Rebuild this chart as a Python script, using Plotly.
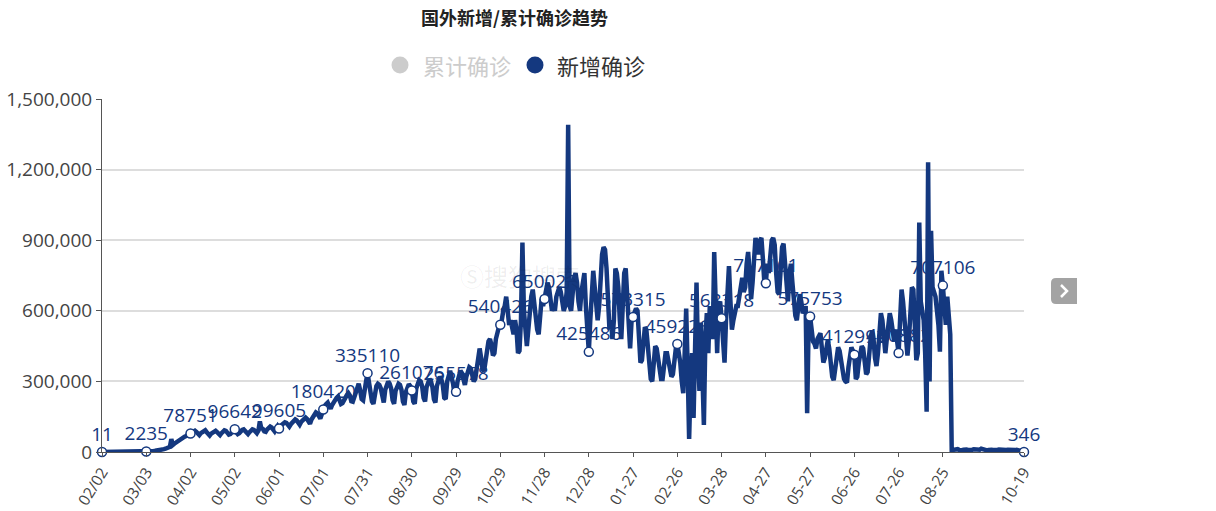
import pandas as pd
import plotly.graph_objects as go

# ---------------- data (daily new confirmed cases outside China, in thousands) -------------
start_date = "2020-02-02"
new_cases_k = [
    # 02/02 - 03/02
    0.011, 0.01, 0.02, 0.03, 0.03, 0.03, 0.06, 0.05, 0.04, 0.05, 0.05, 0.04, 0.1, 0.2, 0.07,
    0.07, 0.1, 0.1, 0.1, 0.2, 0.3, 0.4, 0.5, 0.8, 0.6, 0.9, 1.0, 1.2, 1.5, 1.9,
    # 03/03 - 04/01
    2.235, 2.5, 2.8, 3.2, 3.8, 4.5, 5.0, 5.5, 6.5, 7.5, 9, 10, 12, 14, 16,
    18, 22, 55, 30, 35, 40, 45, 50, 55, 58, 62, 65, 68, 72, 75,
    # 04/02 - 05/01
    78.751, 82, 88, 90, 85, 75, 72, 80, 86, 90, 92, 84, 72, 70, 78,
    82, 88, 90, 84, 74, 72, 80, 86, 92, 90, 82, 74, 76, 84, 90,
    # 05/02 - 05/31
    96.642, 84, 76, 80, 90, 94, 96, 90, 80, 76, 84, 92, 96, 94, 86,
    80, 90, 130, 100, 98, 88, 86, 96, 104, 108, 104, 92, 88, 100, 110,
    # 06/01 - 06/30
    99.605, 104, 116, 120, 126, 124, 112, 108, 118, 124, 132, 138, 134, 120, 116,
    128, 136, 142, 146, 140, 124, 120, 138, 148, 160, 168, 164, 146, 142, 160,
    # 07/01 - 07/30
    180.42, 196, 204, 210, 196, 184, 200, 212, 222, 230, 236, 224, 204, 208, 222,
    234, 242, 250, 240, 216, 214, 232, 248, 275, 290, 262, 225, 220, 285, 300,
    # 07/31 - 08/29
    335.11, 290, 250, 215, 205, 260, 280, 290, 285, 270, 225, 210, 265, 285, 300,
    290, 270, 220, 205, 260, 280, 290, 285, 265, 215, 200, 255, 278, 288, 280,
    # 08/30 - 09/28
    261.076, 215, 205, 270, 290, 305, 300, 280, 230, 215, 275, 300, 310, 300, 275,
    225, 210, 280, 305, 320, 310, 285, 230, 225, 300, 335, 345, 315, 290, 240,
    # 09/29 - 10/28
    255.578, 300, 330, 345, 335, 300, 285, 320, 345, 360, 355, 330, 300, 310, 360,
    390, 440, 400, 350, 345, 400, 430, 470, 480, 455, 410, 420, 480, 520, 530,
    # 10/29 - 11/27
    540.426, 560, 600, 620, 660, 600, 540, 560, 520, 500, 560, 520, 420, 430, 560,
    890, 600, 520, 450, 520, 620, 660, 690, 640, 560, 520, 500, 600, 650, 620,
    # 11/28 - 12/27
    650.029, 680, 720, 700, 640, 600, 620, 600, 660, 690, 700, 680, 640, 600, 620,
    680, 1390, 620, 600, 680, 740, 760, 720, 640, 600, 680, 740, 760, 620, 500,
    # 12/28 - 01-26
    425.486, 560, 720, 770, 700, 620, 560, 620, 760, 840, 870, 860, 780, 600, 520,
    560, 480, 560, 780, 760, 700, 560, 480, 620, 760, 780, 680, 520, 440, 560,
    # 01-27 - 02-25
    573.315, 590, 610, 600, 480, 380, 390, 480, 530, 520, 450, 380, 310, 300, 400,
    450, 440, 400, 340, 310, 310, 390, 420, 420, 380, 330, 320, 330, 400, 440,
    # 02-26 - 03-27
    459.226, 420, 380, 300, 250, 420, 610, 360, 55, 300, 420, 145, 500, 720, 420,
    260, 550, 380, 115, 480, 590, 420, 620, 560, 480, 850, 540, 420, 620, 640,
    # 03-28 - 04-26
    568.318, 480, 380, 560, 720, 790, 640, 520, 560, 600, 620, 620, 660, 720, 740,
    680, 700, 800, 850, 760, 650, 720, 860, 910, 880, 840, 900, 910, 820, 720,
    # 04-27 - 05-26
    717.161, 800, 760, 840, 900, 910, 880, 760, 680, 670, 800, 870, 885, 800, 700,
    640, 760, 800, 720, 640, 580, 560, 620, 670, 640, 590, 600, 620, 165, 540,
    # 05-27 - 06-25
    575.753, 520, 470, 460, 440, 480, 500, 505, 440, 380, 400, 450, 475, 440, 360,
    320, 305, 360, 420, 445, 430, 380, 330, 310, 300, 295, 360, 420, 445, 430,
    # 06-26 - 07-25
    412.992, 310, 320, 380, 430, 450, 440, 380, 330, 340, 420, 480, 515, 480, 400,
    365, 420, 520, 590, 560, 480, 420, 480, 560, 590, 560, 500, 470, 520, 480,
    # 07-26 - 08-24
    420.882, 560, 690, 640, 540, 440, 410, 480, 620, 700, 690, 560, 390, 420, 975,
    640, 600, 560, 420, 171, 1231, 300, 940, 700, 680, 660, 600, 540, 426, 770,
    # 08-25 - 10-19
    707.106, 600, 540, 660, 560, 500, 8,
    9, 11, 10, 12, 9, 7, 8, 10, 13, 11, 9, 8, 7, 10, 12, 11, 9, 8, 10, 14,
    12, 10, 8, 7, 9, 11, 10, 9, 8, 7, 9, 11, 10, 8, 7, 6, 9, 10, 9, 8,
    7, 6, 8, 9, 8, 7, 5, 6,
    0.346,
]

tick_labels = ["02/02", "03/03", "04/02", "05/02", "06/01", "07/01", "07/31", "08/30",
               "09/29", "10/29", "11/28", "12/28", "01-27", "02-26", "03-28", "04-27",
               "05-27", "06-26", "07-26", "08-25", "10-19"]
y_ticks = [0, 300000, 600000, 900000, 1200000, 1500000]
legend_items = ["累计确诊", "新增确诊"]
title_text = "国外新增/累计确诊趋势"

# ---------------- derived ----------------
values = [int(round(v * 1000)) for v in new_cases_k]
dates = pd.date_range(start_date, periods=len(values), freq="D").strftime("%Y-%m-%d").tolist()
n = len(values)
label_idx = list(range(0, n - 55, 30)) + [n - 1]
tick_dates = [dates[i] for i in label_idx]

NAVY = "#14387f"
FONT = "Open Sans, Noto Sans CJK SC, sans-serif"
CJK = "Noto Sans CJK SC, sans-serif"

W, H = 1216, 511
ML, MR, MT, MB = 102, 192, 99, 59
PW, PH = W - ML - MR, H - MT - MB


def px(x):
    return (x - ML) / PW


def py(y):
    return (H - MB - y) / PH


fig = go.Figure()

fig.add_trace(go.Scatter(
    x=dates, y=values, mode="lines",
    line=dict(color=NAVY, width=4.5),
    showlegend=False, hoverinfo="x+y",
))

fig.add_trace(go.Scatter(
    x=[dates[i] for i in label_idx], y=[values[i] for i in label_idx],
    mode="markers+text",
    marker=dict(symbol="circle", size=9, color="white", line=dict(color=NAVY, width=1.5)),
    text=[str(values[i]) for i in label_idx],
    textposition="top center",
    textfont=dict(family=FONT, size=19, color=NAVY),
    cliponaxis=False, showlegend=False, hoverinfo="skip",
))

shapes = []
# legend dots
shapes.append(dict(type="circle", xref="paper", yref="paper",
                   x0=px(391.5), x1=px(408.5), y0=py(73.5), y1=py(56.5),
                   fillcolor="#cccccc", line=dict(width=0)))
shapes.append(dict(type="circle", xref="paper", yref="paper",
                   x0=px(526.5), x1=px(543.5), y0=py(73.5), y1=py(56.5),
                   fillcolor=NAVY, line=dict(width=0)))
# right-side paging button
bx0, bx1, by0, by1, r = 1051, 1077, 278, 304, 5
path = (f"M {px(bx0 + r)},{py(by0)} L {px(bx1)},{py(by0)} L {px(bx1)},{py(by1)} "
        f"L {px(bx0 + r)},{py(by1)} Q {px(bx0)},{py(by1)} {px(bx0)},{py(by1 - r)} "
        f"L {px(bx0)},{py(by0 + r)} Q {px(bx0)},{py(by0)} {px(bx0 + r)},{py(by0)} Z")
shapes.append(dict(type="path", xref="paper", yref="paper", path=path,
                   fillcolor="#a3a3a3", line=dict(width=0)))
shapes.append(dict(type="path", xref="paper", yref="paper",
                   path=f"M {px(1061)},{py(285)} L {px(1067)},{py(291)} L {px(1061)},{py(297)}",
                   line=dict(color="white", width=2.5)))

annotations = [
    dict(text=legend_items[0], xref="paper", yref="paper", x=px(421), y=py(65),
         xanchor="left", yanchor="middle", showarrow=False,
         font=dict(family=CJK, size=22, color="#cccccc")),
    dict(text=legend_items[1], xref="paper", yref="paper", x=px(555), y=py(65),
         xanchor="left", yanchor="middle", showarrow=False,
         font=dict(family=CJK, size=22, color="#333333")),
    dict(text="Ⓢ搜狗搜索", xref="paper", yref="paper", x=px(520), y=py(275),
         xanchor="center", yanchor="middle", showarrow=False,
         font=dict(family=CJK, size=24, color="rgba(0,0,0,0.07)")),
    dict(text=f"<b>{title_text}</b>", xref="paper", yref="paper", x=px(514), y=py(2),
         xanchor="center", yanchor="top", showarrow=False,
         font=dict(family=CJK, size=18, color="#222222")),
]

fig.update_layout(
    width=W, height=H, autosize=False,
    margin=dict(l=ML, r=MR, t=MT, b=MB, pad=0),
    paper_bgcolor="white", plot_bgcolor="white",
    font=dict(family=FONT, color="#333333"),
    showlegend=False,
    shapes=shapes, annotations=annotations,
    xaxis=dict(type="category", categoryorder="array", categoryarray=dates,
               range=[0, n - 1], tickmode="array", tickvals=tick_dates, ticktext=tick_labels,
               tickangle=-58, tickfont=dict(family=FONT, size=15.5, color="#444444"),
               ticks="outside", ticklen=4, tickcolor="#555555",
               showline=True, linecolor="#555555", linewidth=1,
               showgrid=False, zeroline=False, fixedrange=True, automargin=False),
    yaxis=dict(range=[0, 1500000], tickmode="array", tickvals=y_ticks,
               tickformat=",d", tickfont=dict(family=FONT, size=19, color="#444444"),
               ticks="outside", ticklen=5, tickcolor="#555555",
               showline=True, linecolor="#555555", linewidth=1,
               showgrid=True, gridcolor="#dddddd", gridwidth=1.5,
               zeroline=False, fixedrange=True, automargin=False),
)

fig.write_html("out.html")
